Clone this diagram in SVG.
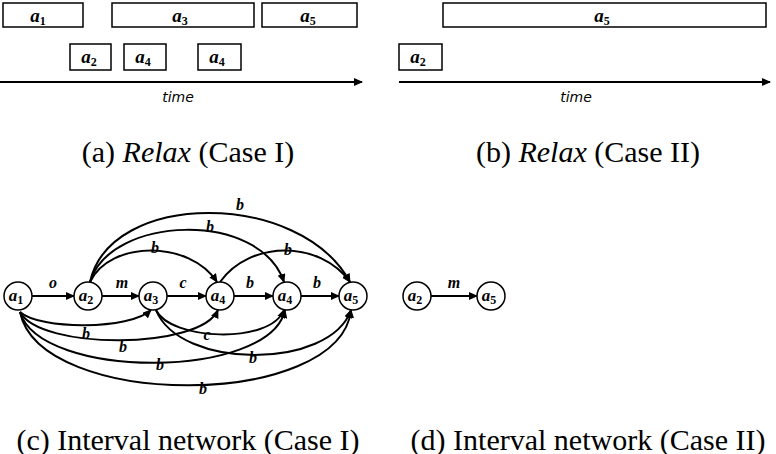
<svg xmlns="http://www.w3.org/2000/svg" width="776" height="454" viewBox="0 0 776 454">
<style>
.box{fill:#fff;stroke:#000;stroke-width:1.5}
.v{font-family:"Liberation Serif",serif;font-style:italic;font-weight:bold;font-size:19px;text-anchor:middle}
.s{font-size:12px;font-style:normal}
.nv{font-family:"Liberation Serif",serif;font-style:italic;font-weight:bold;font-size:17px;text-anchor:middle}
.t{font-family:"DejaVu Sans",sans-serif;font-style:italic;font-size:14px;text-anchor:middle}
.cap{font-family:"Liberation Serif",serif;font-size:30px;text-anchor:middle}
.n{fill:#fff;stroke:#000;stroke-width:1.5}
.e{fill:none;stroke:#000;stroke-width:2;marker-end:url(#ah)}
.l{font-family:"Liberation Serif",serif;font-style:italic;font-weight:bold;font-size:16px;text-anchor:middle}
</style>
<defs>
<marker id="ah" markerWidth="9" markerHeight="8" refX="8" refY="4" orient="auto" markerUnits="userSpaceOnUse"><path d="M0,0 L9,4 L0,8 z"/></marker>
</defs>
<g id="timelineA">
<rect class="box" x="3" y="3" width="80" height="24"/><text class="v" x="38" y="22">a<tspan class="s" dy="3">1</tspan></text>
<rect class="box" x="112" y="3" width="142" height="24"/><text class="v" x="180" y="22">a<tspan class="s" dy="3">3</tspan></text>
<rect class="box" x="262" y="3" width="95" height="24"/><text class="v" x="308" y="22">a<tspan class="s" dy="3">5</tspan></text>
<rect class="box" x="70" y="44" width="41" height="26"/><text class="v" x="89" y="63">a<tspan class="s" dy="3">2</tspan></text>
<rect class="box" x="124" y="44" width="42" height="26"/><text class="v" x="143" y="63">a<tspan class="s" dy="3">4</tspan></text>
<rect class="box" x="198" y="44" width="43" height="26"/><text class="v" x="217" y="63">a<tspan class="s" dy="3">4</tspan></text>
<line x1="0" y1="82" x2="362" y2="82" stroke="#000" stroke-width="2" marker-end="url(#ah)"/>
<text class="t" x="178" y="102">time</text>
<text class="cap" x="188" y="162">(a)  <tspan font-style="italic">Relax</tspan> (Case I)</text>
</g>
<g id="timelineB">
<rect class="box" x="443" y="3" width="323" height="24"/><text class="v" x="602" y="22">a<tspan class="s" dy="3">5</tspan></text>
<rect class="box" x="399" y="44" width="43" height="26"/><text class="v" x="418" y="63">a<tspan class="s" dy="3">2</tspan></text>
<line x1="399" y1="82" x2="770" y2="82" stroke="#000" stroke-width="2" marker-end="url(#ah)"/>
<text class="t" x="576" y="102">time</text>
<text class="cap" x="588" y="162">(b)  <tspan font-style="italic">Relax</tspan> (Case II)</text>
</g>
<g id="connectors">
<path class="e" d="M32,296 L74,296"/><text class="l" x="53" y="288">o</text>
<path class="e" d="M102,296 L139,296"/><text class="l" x="122" y="288">m</text>
<path class="e" d="M167,296 L206,296"/><text class="l" x="183" y="288">c</text>
<path class="e" d="M234,296 L273,296"/><text class="l" x="250" y="288">b</text>
<path class="e" d="M301,296 L339,296"/><text class="l" x="317" y="288">b</text>
<path class="e" d="M90,282 C110,190 300,190 350,282"/><text class="l" x="240" y="210">b</text>
<path class="e" d="M90,282 C110,215 260,210 284,282"/><text class="l" x="210" y="232">b</text>
<path class="e" d="M90,282 C110,240 190,240 217,282"/><text class="l" x="155" y="253">b</text>
<path class="e" d="M220,282 C250,240 320,240 350,282"/><text class="l" x="288" y="255">b</text>
<path class="e" d="M20,312 C40,330 130,330 151,310"/><text class="l" x="86" y="339">b</text>
<path class="e" d="M20,312 C40,350 200,350 218,310"/><text class="l" x="123" y="352">b</text>
<path class="e" d="M20,312 C40,380 270,380 285,310"/><text class="l" x="160" y="370">b</text>
<path class="e" d="M20,312 C40,410 340,410 351,310"/><text class="l" x="203" y="394">b</text>
<path class="e" d="M156,310 C170,340 270,345 284,310"/><text class="l" x="207" y="340">c</text>
<path class="e" d="M156,310 C180,370 330,370 351,310"/><text class="l" x="253" y="363">b</text>
<path class="e" d="M431,296 L477,296"/><text class="l" x="454" y="288">m</text>
</g>
<g id="n1"><circle class="n" cx="18" cy="296" r="14"/><text class="nv" x="16" y="301">a<tspan class="s" dy="3">1</tspan></text></g>
<g id="n2"><circle class="n" cx="88" cy="296" r="14"/><text class="nv" x="86" y="301">a<tspan class="s" dy="3">2</tspan></text></g>
<g id="n3"><circle class="n" cx="153" cy="296" r="14"/><text class="nv" x="151" y="301">a<tspan class="s" dy="3">3</tspan></text></g>
<g id="n4"><circle class="n" cx="220" cy="296" r="14"/><text class="nv" x="218" y="301">a<tspan class="s" dy="3">4</tspan></text></g>
<g id="n4b"><circle class="n" cx="287" cy="296" r="14"/><text class="nv" x="285" y="301">a<tspan class="s" dy="3">4</tspan></text></g>
<g id="n5"><circle class="n" cx="353" cy="296" r="14"/><text class="nv" x="351" y="301">a<tspan class="s" dy="3">5</tspan></text></g>
<g id="d2"><circle class="n" cx="417" cy="296" r="14"/><text class="nv" x="415" y="301">a<tspan class="s" dy="3">2</tspan></text></g>
<g id="d5"><circle class="n" cx="491" cy="296" r="14"/><text class="nv" x="489" y="301">a<tspan class="s" dy="3">5</tspan></text></g>
<text class="cap" x="188" y="450">(c)  Interval network (Case I)</text>
<text class="cap" x="588" y="450">(d)  Interval network (Case II)</text>
</svg>
